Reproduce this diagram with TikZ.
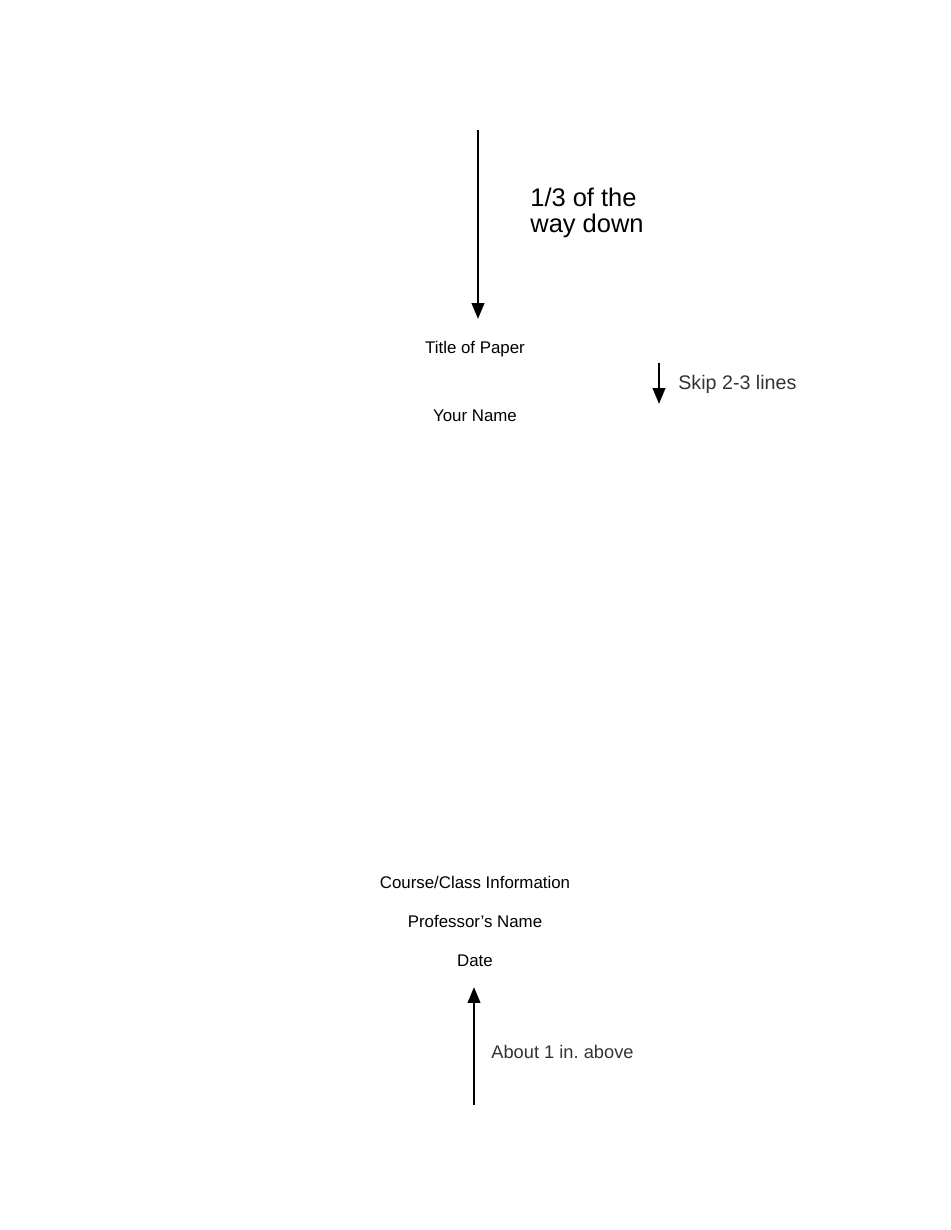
\documentclass[tikz,border=0pt]{standalone}
\usepackage{fontspec}
\setmainfont{Liberation Sans}
\usetikzlibrary{arrows.meta,positioning}

\begin{document}
\begin{tikzpicture}[
  x=0.02cm, y=-0.02cm,
  linetext/.style={anchor=base, inner sep=0pt, font=\fontsize{9.6}{11.5}\selectfont},
  note/.style={anchor=base west, inner sep=0pt, text=black!80, align=left},
  arr/.style={-{Triangle[length=9pt,width=7pt]}, line width=1.5pt}
]
\useasboundingbox (0,0) rectangle (950,1230);

% page lines
\node[linetext] (title)   at (475,353) {Title of Paper};
\node[linetext] (name)    at (475,421) {Your Name};
\node[linetext] (course)  at (475,888) {Course/Class Information};
\node[linetext] (prof)    at (475,927) {Professor’s Name};
\node[linetext] (date)    at (475,966) {Date};

% hints
\node[note, text=black, font=\fontsize{14.5}{14.7}\selectfont] (third) at (530,232) {1/3 of the\\way down};
\node[note, font=\fontsize{11.2}{13}\selectfont] (skip)  at (678,389) {Skip 2-3 lines};
\node[note, font=\fontsize{10.4}{12.5}\selectfont] (above) at (491,1058) {About 1 in.\ above};

\coordinate (top1) at (478,130);
\coordinate (top2) at (478,319);
\coordinate (skip1) at (659,363);
\coordinate (skip2) at (659,404);
\coordinate (bot1) at (474,1105);
\coordinate (bot2) at (474,987);

\draw[arr] (top1)  -- (top2);
\draw[arr] (skip1) -- (skip2);
\draw[arr] (bot1)  -- (bot2);

\end{tikzpicture}
\end{document}
